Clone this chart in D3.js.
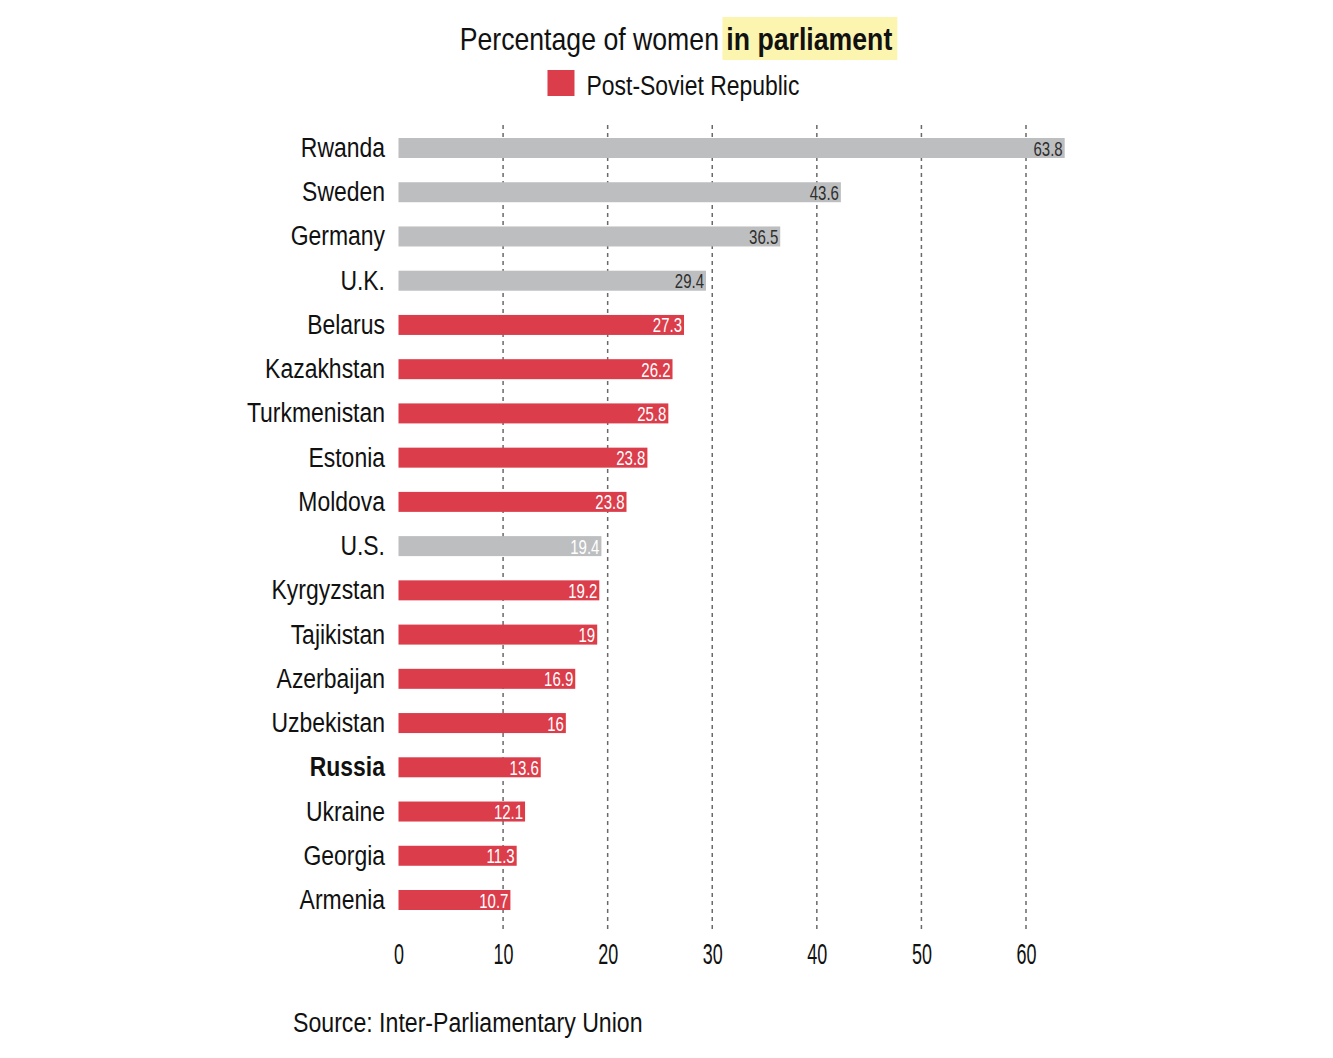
<!DOCTYPE html>
<html>
<head>
<meta charset="utf-8">
<script src="https://cdn.jsdelivr.net/npm/d3@7"></script>
<style>
  html, body { margin: 0; padding: 0; background: #fff; }
  svg { display: block; }
  text { font-family: "Liberation Sans", Arial, sans-serif; white-space: pre; }
</style>
</head>
<body>
<svg id="chart" width="1333" height="1058"></svg>
<script>
// ---- data ----
const countries = ["Rwanda","Sweden","Germany","U.K.","Belarus","Kazakhstan","Turkmenistan","Estonia","Moldova","U.S.","Kyrgyzstan","Tajikistan","Azerbaijan","Uzbekistan","Russia","Ukraine","Georgia","Armenia"];
// bar lengths as drawn
const barValues = [63.7, 42.3, 36.5, 29.4, 27.3, 26.2, 25.8, 23.8, 21.8, 19.4, 19.2, 19.0, 16.9, 16.0, 13.6, 12.1, 11.3, 10.7];
// value labels as printed
const valueLabels = ["63.8","43.6","36.5","29.4","27.3","26.2","25.8","23.8","23.8","19.4","19.2","19","16.9","16","13.6","12.1","11.3","10.7"];
const postSoviet = [false,false,false,false,true,true,true,true,true,false,true,true,true,true,true,true,true,true];
const xTicks = [0,10,20,30,40,50,60];
const gridTicks = [10,20,30,40,50,60];
const titleRegular = "Percentage of women ";
const titleBold = "in parliament";
const legendLabel = "Post-Soviet Republic";
const sourceText = "Source: Inter-Parliamentary Union";

const RED = "#dc3d4b", GREY = "#bdbec0";

const svg = d3.select("#chart");
const rows = countries.map((c, i) => ({c, v: barValues[i], lab: valueLabels[i], ps: postSoviet[i]}));

const x = d3.scaleLinear().domain([0, 60]).range([398.5, 1026]);
const y = d3.scalePoint().domain(countries).range([148, 900]);
const barH = 20;

// narrow text helper: horizontally condensed text
const NARROW = 0.85;

// grid
svg.append("g").selectAll("line").data(gridTicks).join("line")
  .attr("x1", d => x(d)).attr("x2", d => x(d))
  .attr("y1", 125).attr("y2", 930)
  .attr("stroke", "#6a6a6a").attr("stroke-width", 1.5)
  .attr("stroke-dasharray", "4,4");

// bars
svg.append("g").selectAll("rect").data(rows).join("rect")
  .attr("x", x(0)).attr("y", d => y(d.c) - barH / 2)
  .attr("width", d => x(d.v) - x(0)).attr("height", barH)
  .attr("fill", d => d.ps ? RED : GREY);

// value labels
svg.append("g").selectAll("text").data(rows).join("text")
  .attr("transform", d => `translate(${x(d.v) - 2},${y(d.c) + 7.5}) scale(0.75,1)`)
  .attr("text-anchor", "end")
  .attr("font-size", 20)
  .attr("fill", d => (d.ps || d.c === "U.S.") ? "#ffffff" : "#2e2e2e")
  .text(d => d.lab);

// country labels
svg.append("g").selectAll("text").data(rows).join("text")
  .attr("transform", d => `translate(385,${y(d.c) + 9}) scale(${NARROW},1)`)
  .attr("text-anchor", "end")
  .attr("font-size", 27)
  .attr("font-weight", d => d.c === "Russia" ? "bold" : "normal")
  .attr("fill", "#111")
  .text(d => d.c);

// x axis
const axis = d3.axisBottom(x).tickValues(xTicks).tickSize(0).tickPadding(0).tickFormat(d3.format("d"));
const ax = svg.append("g").attr("transform", "translate(0,964)").call(axis);
ax.select(".domain").remove();
ax.selectAll(".tick text")
  .attr("font-family", "Liberation Sans, Arial, sans-serif")
  .attr("font-size", 29).attr("fill", "#111")
  .attr("y", 0).attr("dy", 0)
  .attr("transform", "scale(0.62,1)");

// title
const tg = svg.append("g");
const tt = tg.append("text").attr("font-size", 31).attr("fill", "#111");
const s1 = tt.append("tspan").text(titleRegular);
const s2 = tt.append("tspan").attr("font-weight", "bold").text(titleBold);
const w1 = s1.node().getComputedTextLength() * 0.86;
const w2 = s2.node().getComputedTextLength() * 0.86;
const tx0 = 676 - (w1 + w2) / 2;
tt.attr("transform", `translate(${tx0},50) scale(0.86,1)`);
tg.insert("rect", ":first-child")
  .attr("x", tx0 + w1 - 4).attr("y", 17).attr("width", w2 + 9).attr("height", 43)
  .attr("fill", "#fcf5b0");

// legend
const lg = svg.append("g");
const lt = lg.append("text").attr("font-size", 27).attr("fill", "#111").text(legendLabel);
const lw = lt.node().getComputedTextLength() * NARROW;
const lx0 = 673.5 - (27 + 12 + lw) / 2;
lg.append("rect").attr("x", lx0).attr("y", 70).attr("width", 27).attr("height", 26).attr("fill", RED);
lt.attr("transform", `translate(${lx0 + 39},95) scale(${NARROW},1)`);

// source
svg.append("text").attr("transform", `translate(293,1032) scale(0.857,1)`)
  .attr("font-size", 27).attr("fill", "#111").text(sourceText);
</script>
</body>
</html>
